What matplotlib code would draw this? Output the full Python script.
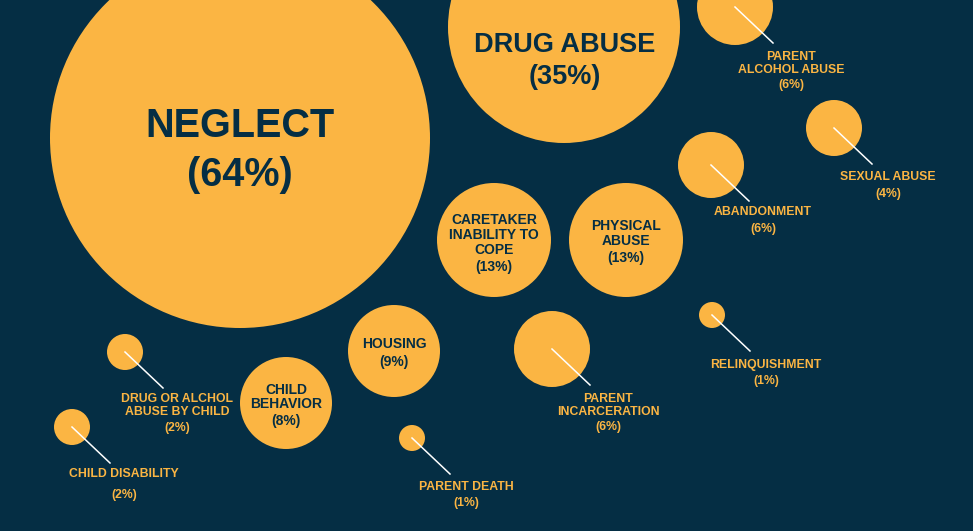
import matplotlib.pyplot as plt
from matplotlib.patches import Circle

# data
categories = ["NEGLECT", "DRUG ABUSE", "PARENT\nALCOHOL ABUSE", "SEXUAL ABUSE",
              "ABANDONMENT", "CARETAKER\nINABILITY TO\nCOPE", "PHYSICAL\nABUSE",
              "HOUSING", "CHILD\nBEHAVIOR", "PARENT\nINCARCERATION", "RELINQUISHMENT",
              "DRUG OR ALCHOL\nABUSE BY CHILD", "CHILD DISABILITY", "PARENT DEATH"]
percents = [64, 35, 6, 4, 6, 13, 13, 9, 8, 6, 1, 2, 2, 1]

# layout (pixel coordinates, y downwards)
cx = [240, 564, 735, 834, 711, 494, 626, 394, 286, 552, 712, 125, 72, 412]
cy = [138, 27, 7, 128, 165, 240, 240, 351, 403, 349, 315, 352, 427, 438]
radius = [190, 116, 38, 28, 33, 57, 57, 46, 46, 38, 13, 18, 18, 13]
inside = [True, True, False, False, False, True, True, True, True, False, False, False, False, False]
label_x = [240, 565, 791, 888, 763, 494, 626, 394, 286, 608, 766, 177, 124, 466]
name_y = [126, 45, 57, 177, 212, 220, 226, 344, 390, 399, 365, 399, 474, 487]
line_dy = [0, 0, 13, 0, 0, 15, 15, 0, 14, 13, 0, 13, 0, 0]
pct_y = [175, 77, 85, 194, 229, 267, 258, 362, 421, 427, 381, 428, 495, 503]
fsize = [28.5, 19.5, 8.8, 8.8, 8.8, 10, 10, 10, 10, 8.8, 8.8, 8.8, 8.8, 8.8]

BG = "#052e44"
ORANGE = "#fbb543"

fig = plt.figure(figsize=(9.73, 5.31), dpi=100)
fig.patch.set_facecolor(BG)
ax = fig.add_axes([0, 0, 1, 1])
ax.set_facecolor(BG)
ax.set_xlim(0, 973)
ax.set_ylim(531, 0)
ax.set_aspect("equal")
ax.axis("off")

for i, cat in enumerate(categories):
    ax.add_patch(Circle((cx[i], cy[i]), radius[i], color=ORANGE, lw=0, zorder=1))
    if inside[i]:
        tcol = BG
    else:
        tcol = ORANGE
        # leader line from the centre down to the right
        ax.plot([cx[i], cx[i] + 38], [cy[i], cy[i] + 36], color="white", lw=1.1, zorder=2)
    for j, line in enumerate(cat.split("\n")):
        ax.text(label_x[i], name_y[i] + j * line_dy[i], line, ha="center", va="center",
                fontsize=fsize[i], fontweight="bold", color=tcol,
                family="Liberation Sans", zorder=3)
    ax.text(label_x[i], pct_y[i], f"({percents[i]}%)", ha="center", va="center",
            fontsize=fsize[i], fontweight="bold", color=tcol,
            family="Liberation Sans", zorder=3)

fig.savefig("out.png", dpi=100, facecolor=BG)
